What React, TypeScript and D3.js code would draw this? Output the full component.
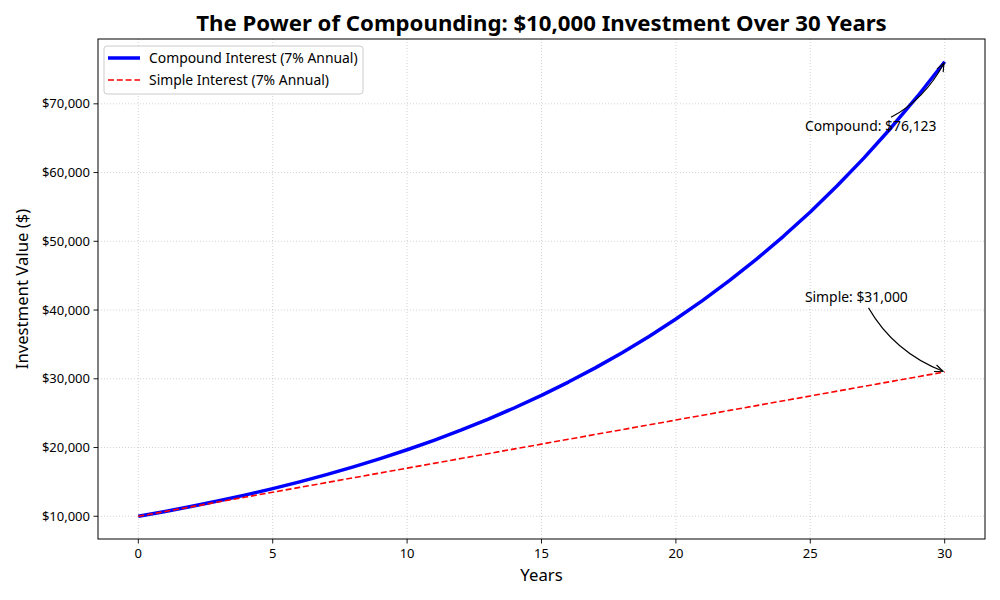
import * as d3 from 'd3'

// values (years 0..30)
const years = [0, 1, 2, 3, 4, 5, 6, 7, 8, 9, 10, 11, 12, 13, 14, 15, 16, 17, 18, 19, 20, 21, 22, 23, 24, 25, 26, 27, 28, 29, 30]
const compoundValues = [
  10000, 10700, 11449, 12250, 13108, 14026, 15007, 16058, 17182, 18385, 19672,
  21049, 22522, 24098, 25785, 27590, 29522, 31588, 33799, 36165, 38697,
  41406, 44304, 47405, 50724, 54274, 58074, 62139, 66488, 71143, 76123,
]
const simpleValues = [
  10000, 10700, 11400, 12100, 12800, 13500, 14200, 14900, 15600, 16300, 17000,
  17700, 18400, 19100, 19800, 20500, 21200, 21900, 22600, 23300, 24000,
  24700, 25400, 26100, 26800, 27500, 28200, 28900, 29600, 30300, 31000,
]
const xTicks = [0, 5, 10, 15, 20, 25, 30]
const yTicks = [10000, 20000, 30000, 40000, 50000, 60000, 70000]
const seriesLabels = ['Compound Interest (7% Annual)', 'Simple Interest (7% Annual)']
const annotations = [
  { text: 'Compound: $76,123', x: 30, y: 76123, tx: 24.8, ty: 66000 },
  { text: 'Simple: $31,000', x: 30, y: 31000, tx: 24.8, ty: 41200 },
]

const W = 1000
const H = 600
const margin = { top: 39, right: 15, bottom: 61, left: 98 }
const font = '"Noto Sans", "DejaVu Sans", sans-serif'

type Pt = [number, number]

// quadratic bezier like matplotlib's arc3 (rad=0.2), trimmed at the text box
function arcPath(a: Pt, b: Pt, box: { x0: number; x1: number; y0: number; y1: number }) {
  const rad = 0.2
  const mx = (a[0] + b[0]) / 2
  const my = (a[1] + b[1]) / 2
  const dx = b[0] - a[0]
  const dy = -(b[1] - a[1])
  const c: Pt = [mx + rad * dy, my + rad * dx]
  const at = (t: number): Pt => [
    (1 - t) * (1 - t) * a[0] + 2 * (1 - t) * t * c[0] + t * t * b[0],
    (1 - t) * (1 - t) * a[1] + 2 * (1 - t) * t * c[1] + t * t * b[1],
  ]
  let t0 = 0
  for (let t = 0; t <= 1; t += 0.002) {
    const p = at(t)
    if (p[0] < box.x0 || p[0] > box.x1 || p[1] < box.y0 || p[1] > box.y1) { t0 = t; break }
  }
  const t1 = 0.985
  const p0 = at(t0)
  const p2 = at(t1)
  const lerp = (p: Pt, q: Pt, t: number): Pt => [p[0] + (q[0] - p[0]) * t, p[1] + (q[1] - p[1]) * t]
  const q0 = lerp(a, c, t0)
  const q1 = lerp(c, b, t0)
  const u = (t1 - t0) / (1 - t0)
  const cc = lerp(q0, q1, u)
  const path = `M${p0[0]},${p0[1]} Q${cc[0]},${cc[1]} ${p2[0]},${p2[1]}`
  // arrow head
  const ang = Math.atan2(p2[1] - cc[1], p2[0] - cc[0])
  const L = 9
  const h1: Pt = [p2[0] - L * Math.cos(ang - 0.4), p2[1] - L * Math.sin(ang - 0.4)]
  const h2: Pt = [p2[0] - L * Math.cos(ang + 0.4), p2[1] - L * Math.sin(ang + 0.4)]
  const head = `M${h1[0]},${h1[1]} L${p2[0]},${p2[1]} L${h2[0]},${h2[1]}`
  return { path, head }
}

export default function App() {
  const iw = W - margin.left - margin.right
  const ih = H - margin.top - margin.bottom

  const x = d3.scaleLinear().domain([-1.5, 31.5]).range([0, iw])
  const yMin = 10000
  const yMax = 76123
  const pad = (yMax - yMin) * 0.05
  const y = d3.scaleLinear().domain([yMin - pad, yMax + pad]).range([ih, 0])

  const compoundLine = d3.line<number>().x((_, i) => x(years[i])).y(d => y(d))(compoundValues) || ''
  const simpleLine = d3.line<number>().x((_, i) => x(years[i])).y(d => y(d))(simpleValues) || ''
  const fmt = (v: number) => '$' + d3.format(',')(v)

  return (
    <svg width={W} height={H} style={{ position: 'absolute', left: 0, top: 0, background: '#fff' }} fontFamily={font}>
      <rect width={W} height={H} fill="#fff" />
      <text x={margin.left + iw / 2} y={31} textAnchor="middle" fontSize={22.2} fontWeight="bold" fill="#000">
        The Power of Compounding: $10,000 Investment Over 30 Years
      </text>
      <g transform={`translate(${margin.left},${margin.top})`}>
        {/* grid */}
        {xTicks.map(t => (
          <line key={'gx' + t} x1={x(t)} x2={x(t)} y1={0} y2={ih} stroke="#b0b0b0" strokeOpacity={0.7} strokeWidth={0.8} strokeDasharray="1,2" />
        ))}
        {yTicks.map(t => (
          <line key={'gy' + t} x1={0} x2={iw} y1={y(t)} y2={y(t)} stroke="#b0b0b0" strokeOpacity={0.7} strokeWidth={0.8} strokeDasharray="1,2" />
        ))}

        <path d={compoundLine} fill="none" stroke="#0000ff" strokeWidth={3.5} strokeLinejoin="round" />
        <path d={simpleLine} fill="none" stroke="#ff0000" strokeWidth={1.6} strokeDasharray="6,2.8" />

        {/* spines */}
        <rect x={0} y={0} width={iw} height={ih} fill="none" stroke="#000" strokeWidth={1} />

        {/* ticks */}
        {xTicks.map(t => (
          <g key={'xt' + t} transform={`translate(${x(t)},${ih})`}>
            <line y2={4.5} stroke="#000" strokeWidth={0.9} />
            <text y={19} textAnchor="middle" fontSize={13} fill="#000">{t}</text>
          </g>
        ))}
        {yTicks.map(t => (
          <g key={'yt' + t} transform={`translate(0,${y(t)})`}>
            <line x2={-4.5} stroke="#000" strokeWidth={0.9} />
            <text x={-8} dy="0.35em" textAnchor="end" fontSize={13} fill="#000">{fmt(t)}</text>
          </g>
        ))}

        <text x={iw / 2} y={ih + 42} textAnchor="middle" fontSize={16.7} fill="#000">Years</text>
        <text transform={`translate(${-70},${ih / 2}) rotate(-90)`} textAnchor="middle" fontSize={16.7} fill="#000">
          Investment Value ($)
        </text>

        {/* annotations */}
        {annotations.map(a => {
          const tx = x(a.tx)
          const ty = y(a.ty)
          const tw = a.text.length * 7.7
          const box = { x0: tx - 3, x1: tx + tw + 3, y0: ty - 14, y1: ty + 6 }
          const { path, head } = arcPath([tx + tw / 2, ty - 5], [x(a.x), y(a.y)], box)
          return (
            <g key={a.text}>
              <text x={tx} y={ty} fontSize={13.9} fill="#000">{a.text}</text>
              <path d={path} fill="none" stroke="#000" strokeWidth={1.1} />
              <path d={head} fill="none" stroke="#000" strokeWidth={1.1} />
            </g>
          )
        })}

        {/* legend */}
        <g transform="translate(6,7)">
          <rect width={259} height={48} rx={3} fill="#fff" fillOpacity={0.8} stroke="#cccccc" strokeWidth={1} />
          <line x1={4} x2={36} y1={12} y2={12} stroke="#0000ff" strokeWidth={3.5} />
          <text x={45} y={12} dy="0.35em" fontSize={13.9} fill="#000">{seriesLabels[0]}</text>
          <line x1={4} x2={36} y1={34} y2={34} stroke="#ff0000" strokeWidth={1.6} strokeDasharray="6,2.8" />
          <text x={45} y={34} dy="0.35em" fontSize={13.9} fill="#000">{seriesLabels[1]}</text>
        </g>
      </g>
    </svg>
  )
}
